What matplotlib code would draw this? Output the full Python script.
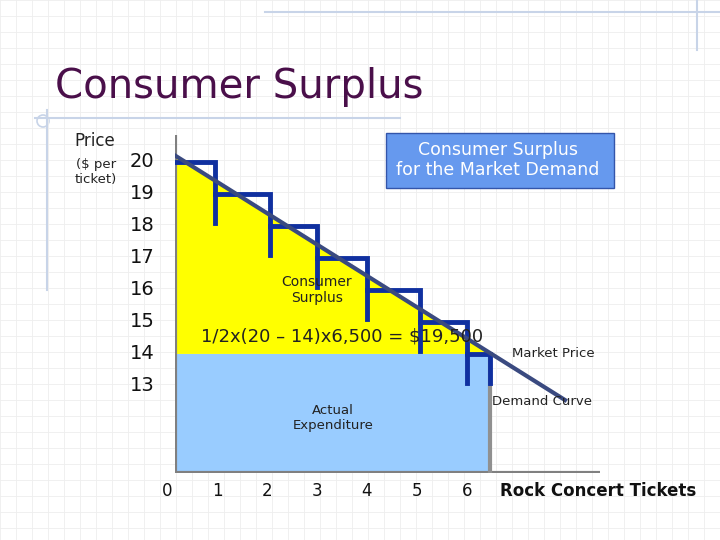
import matplotlib
matplotlib.use("Agg")
import matplotlib.pyplot as plt
from matplotlib.patches import Rectangle, Polygon

step_edges = [0.16, 0.96, 2.06, 3.0, 4.0, 5.06, 6.0, 6.46]
step_levels = [20, 19, 18, 17, 16, 15, 14]
x_ticks = [0, 1, 2, 3, 4, 5, 6]
y_ticks = [20, 19, 18, 17, 16, 15, 14, 13]
demand_x = [0.16, 7.96]
demand_y = [20.2, 12.56]
market_price = 14
market_qty = 6.46

W, H = 720, 540
fig = plt.figure(figsize=(7.2, 5.4), dpi=100)
fig.patch.set_facecolor("white")

# background slide grid
bg = fig.add_axes([0, 0, 1, 1], zorder=-5)
bg.set_xlim(0, W); bg.set_ylim(H, 0); bg.axis("off")
for gx in range(0, W, 16):
    bg.axvline(gx, color="#eeeeee", lw=0.6)
for gy in range(0, H, 16):
    bg.axhline(gy, color="#eeeeee", lw=0.6)
bg.plot([265, 720], [12, 12], color="#c8d4e8", lw=1.5)
bg.plot([697, 697], [0, 50], color="#c8d4e8", lw=1.5)
bg.plot([47, 47], [110, 290], color="#c8d4e8", lw=1.5)
bg.plot([35, 400], [118, 118], color="#c8d4e8", lw=1.5)
bg.add_patch(plt.Circle((43, 121), 6, fill=False, color="#c8d4e8", lw=1.2))

fig.text(55/W, 1-87/H, "Consumer Surplus", fontsize=29, color="#4a0f4a", va="center")
fig.text(95/W, 1-141/H, "Price", fontsize=12, color="#222", ha="center", va="center")
fig.text(96/W, 1-172/H, "($ per\nticket)", fontsize=9.5, color="#222", ha="center", va="center")

l, r, b, t = 175, 600, 473, 135
ax = fig.add_axes([l/W, 1-b/H, (r-l)/W, (b-t)/H])
ax.set_xlim(0.16, 8.66)
ax.set_ylim(10.28, 20.84)
ax.axis("off")

yl = demand_y[0] + (demand_y[1]-demand_y[0])/(demand_x[1]-demand_x[0])*(0)
slope = (demand_y[1]-demand_y[0])/(demand_x[1]-demand_x[0])
x_at_p = demand_x[0] + (market_price-demand_y[0])/slope
ax.add_patch(Polygon([[0.16, demand_y[0]], [x_at_p, market_price], [0.16, market_price]],
                     closed=True, facecolor="#ffff00", edgecolor="none"))
ax.add_patch(Rectangle((0.16, 10.28), market_qty-0.16, market_price-10.28,
                       facecolor="#99ccff", edgecolor="none"))
ax.plot([0.16, 0.16], [10.28, 20.84], color="#808080", lw=3)
ax.plot([0.16, 8.66], [10.28, 10.28], color="#808080", lw=3)
ax.plot([market_qty, market_qty], [10.28, market_price], color="#909090", lw=3)

# steps
for i, lev in enumerate(step_levels):
    x0, x1 = step_edges[i], step_edges[i+1]
    ax.plot([x0, x1, x1], [lev, lev, lev-0.9], color="#1030a0", lw=3.5, solid_joinstyle="miter")
    if i > 0:
        ax.plot([x0, x0], [lev, lev-0.9], color="#1030a0", lw=3.5)

ax.plot(demand_x, demand_y, color="#3a4a80", lw=3)

for yv in y_ticks:
    ax.text(-0.25, yv, str(yv), fontsize=14, ha="right", va="center", color="#111")
for xv in x_ticks:
    ax.text(xv, 10.0, str(xv), fontsize=12, ha="center", va="top", color="#111")
ax.text(6.65, 10.0, "Rock Concert Tickets", fontsize=12, fontweight="bold", ha="left", va="top", color="#111")

ax.text(3.0, 16.0, "Consumer\nSurplus", fontsize=10, ha="center", va="center", color="#222")
ax.text(3.5, 14.55, "1/2x(20 – 14)x6,500 = $19,500", fontsize=13, ha="center", va="center", color="#222")
ax.text(8.55, 14.0, "Market Price", fontsize=9.5, ha="right", va="center", color="#222")
ax.text(8.5, 12.5, "Demand Curve", fontsize=9.5, ha="right", va="center", color="#222")
ax.text(3.32, 12.0, "Actual\nExpenditure", fontsize=9.5, ha="center", va="center", color="#222")

# title box
fig.patches.append(Rectangle((386/W, 1-188/H), (614-386)/W, (188-133)/H,
                             transform=fig.transFigure, facecolor="#6699ee",
                             edgecolor="#3355aa", lw=1, zorder=5))
fig.text(498/W, 1-160/H, "Consumer Surplus\nfor the Market Demand", fontsize=12.5,
         color="white", ha="center", va="center", zorder=6, linespacing=1.2)

fig.savefig("out.png", dpi=100)
